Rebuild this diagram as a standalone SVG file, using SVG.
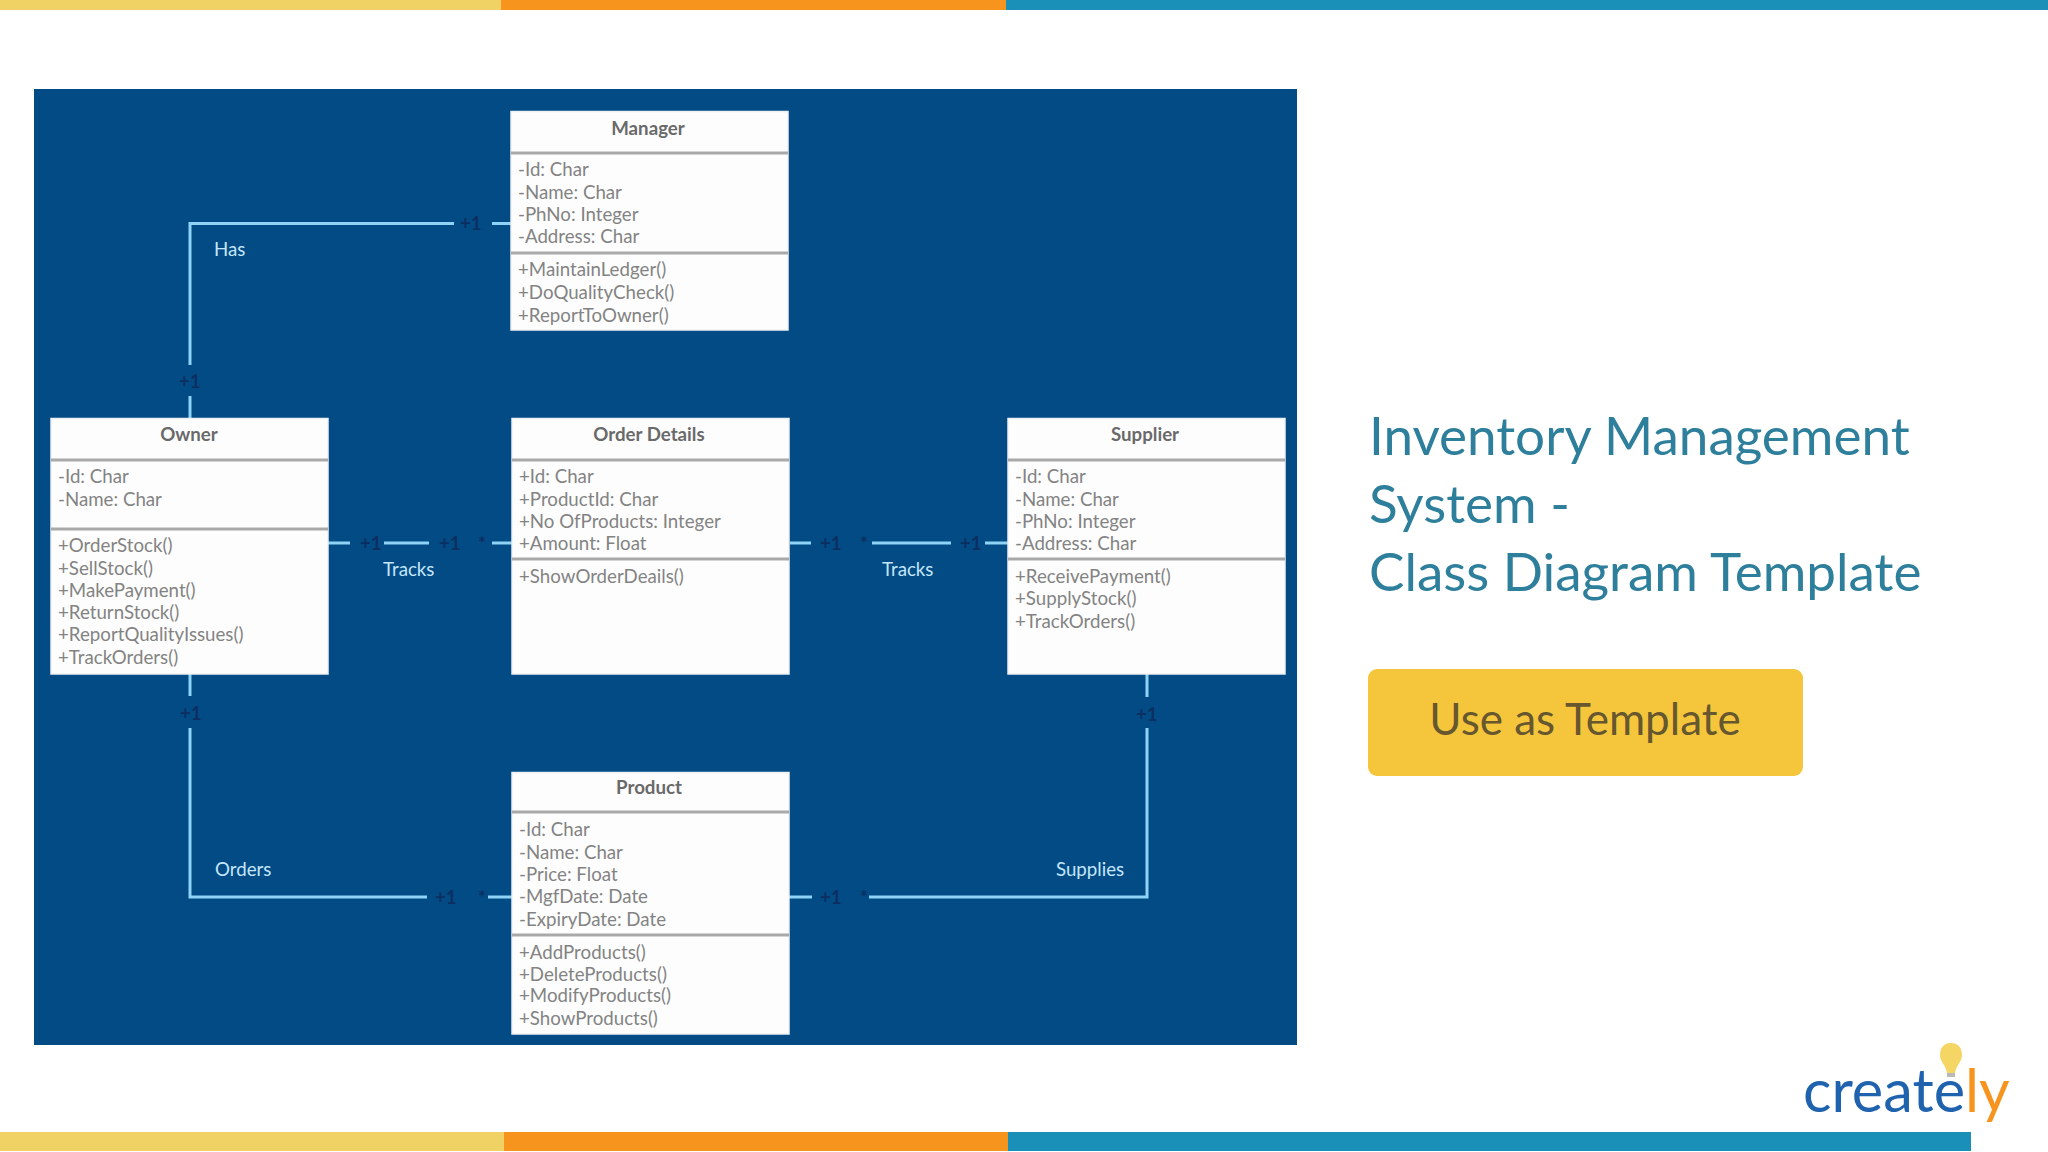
<svg xmlns="http://www.w3.org/2000/svg" width="2048" height="1152" viewBox="0 0 2048 1152">
<style>
.box{fill:#fdfdfd;stroke:#eef0f2;stroke-width:1.5}
.div{stroke:#a9a9a9;stroke-width:3}
.t{font-family:Lato,"Liberation Sans",sans-serif;font-size:18.7px;fill:#838383}
.h{font-family:Lato,"Liberation Sans",sans-serif;font-size:18.7px;font-weight:700;fill:#6a6a6a;text-anchor:middle}
.c{fill:none;stroke:#8fd3f7;stroke-width:3}
.m{font-family:Lato,"Liberation Sans",sans-serif;font-size:18.7px;font-weight:700;fill:#0c2f62}
.l{font-family:Lato,"Liberation Sans",sans-serif;font-size:18.7px;fill:#c4e6fb}
.title{font-family:Lato,"Liberation Sans",sans-serif;font-size:53px;fill:#2e7f9c}
</style>
<rect width="2048" height="1152" fill="#ffffff"/>
<g id="bars">
<rect x="0" y="0" width="501" height="10" fill="#f0d264"/>
<rect x="501" y="0" width="505" height="10" fill="#f7941e"/>
<rect x="1006" y="0" width="1042" height="10" fill="#1a8fb8"/>
<rect x="0" y="1132" width="504" height="19" fill="#f0d264"/>
<rect x="504" y="1132" width="504" height="19" fill="#f7941e"/>
<rect x="1008" y="1132" width="963" height="19" fill="#1a8fb8"/>
</g>
<rect id="canvas" x="34" y="89" width="1263" height="956" fill="#034b84"/>
<g id="connectors">
<path class="c" d="M190 418V396M190 365V223.500H454M492 223.500H511"/>
<path class="c" d="M328 543H350M384 543H429M492 543H512"/>
<path class="c" d="M790 543H811M872 543H951M985 543H1008"/>
<path class="c" d="M190 674V696M190 728V897H427M488 897H512"/>
<path class="c" d="M1147 674V697M1147 728V897H869M812 897H789"/>
<text class="m" x="179" y="388">+1</text>
<text class="m" x="460" y="230">+1</text>
<text class="m" x="360" y="550">+1</text>
<text class="m" x="439" y="550">+1</text>
<text class="m" x="478" y="550">*</text>
<text class="m" x="820" y="550">+1</text>
<text class="m" x="860" y="550">*</text>
<text class="m" x="960" y="550">+1</text>
<text class="m" x="180" y="720">+1</text>
<text class="m" x="435" y="904">+1</text>
<text class="m" x="478" y="904">*</text>
<text class="m" x="1136" y="721">+1</text>
<text class="m" x="820" y="904">+1</text>
<text class="m" x="860" y="904">*</text>
<text class="l" x="214" y="256">Has</text>
<text class="l" x="383" y="576">Tracks</text>
<text class="l" x="882" y="576">Tracks</text>
<text class="l" x="215" y="876">Orders</text>
<text class="l" x="1056" y="876">Supplies</text>
</g>
<g id="manager">
<rect class="box" x="511" y="111.500" width="277" height="218.500"/>
<path class="div" d="M511 153H788M511 253H788"/>
<text class="h" x="648" y="135">Manager</text>
<text class="t" x="518" y="176">-Id: Char</text>
<text class="t" x="518" y="199">-Name: Char</text>
<text class="t" x="518" y="221">-PhNo: Integer</text>
<text class="t" x="518" y="243">-Address: Char</text>
<text class="t" x="518" y="276">+MaintainLedger()</text>
<text class="t" x="518" y="299">+DoQualityCheck()</text>
<text class="t" x="518" y="322">+ReportToOwner()</text>
</g>
<g id="owner">
<rect class="box" x="51" y="418.500" width="277" height="255.500"/>
<path class="div" d="M51 460H328M51 529H328"/>
<text class="h" x="189" y="441">Owner</text>
<text class="t" x="58" y="483">-Id: Char</text>
<text class="t" x="58" y="506">-Name: Char</text>
<text class="t" x="58" y="552">+OrderStock()</text>
<text class="t" x="58" y="575">+SellStock()</text>
<text class="t" x="58" y="597">+MakePayment()</text>
<text class="t" x="58" y="619">+ReturnStock()</text>
<text class="t" x="58" y="641">+ReportQualityIssues()</text>
<text class="t" x="58" y="664">+TrackOrders()</text>
</g>
<g id="order-details">
<rect class="box" x="512" y="418.500" width="277" height="255.500"/>
<path class="div" d="M512 460H789M512 559H789"/>
<text class="h" x="649" y="441">Order Details</text>
<text class="t" x="519" y="483">+Id: Char</text>
<text class="t" x="519" y="506">+ProductId: Char</text>
<text class="t" x="519" y="528">+No OfProducts: Integer</text>
<text class="t" x="519" y="550">+Amount: Float</text>
<text class="t" x="519" y="583">+ShowOrderDeails()</text>
</g>
<g id="supplier">
<rect class="box" x="1008" y="418.500" width="277" height="255.500"/>
<path class="div" d="M1008 460H1285M1008 559H1285"/>
<text class="h" x="1145" y="441">Supplier</text>
<text class="t" x="1015" y="483">-Id: Char</text>
<text class="t" x="1015" y="506">-Name: Char</text>
<text class="t" x="1015" y="528">-PhNo: Integer</text>
<text class="t" x="1015" y="550">-Address: Char</text>
<text class="t" x="1015" y="583">+ReceivePayment()</text>
<text class="t" x="1015" y="605">+SupplyStock()</text>
<text class="t" x="1015" y="628">+TrackOrders()</text>
</g>
<g id="product">
<rect class="box" x="512" y="772.500" width="277" height="261.500"/>
<path class="div" d="M512 812H789M512 935H789"/>
<text class="h" x="649" y="794">Product</text>
<text class="t" x="519" y="836">-Id: Char</text>
<text class="t" x="519" y="859">-Name: Char</text>
<text class="t" x="519" y="881">-Price: Float</text>
<text class="t" x="519" y="903">-MgfDate: Date</text>
<text class="t" x="519" y="926">-ExpiryDate: Date</text>
<text class="t" x="519" y="959">+AddProducts()</text>
<text class="t" x="519" y="981">+DeleteProducts()</text>
<text class="t" x="519" y="1002">+ModifyProducts()</text>
<text class="t" x="519" y="1025">+ShowProducts()</text>
</g>
<g id="heading">
<text class="title" x="1369" y="455">Inventory Management</text>
<text class="title" x="1369" y="523">System -</text>
<text class="title" x="1369" y="591">Class Diagram Template</text>
</g>
<g id="use-template">
<rect x="1368" y="669" width="435" height="107" rx="9" fill="#f5c63c"/>
<text x="1585" y="735" font-family="Lato,'Liberation Sans',sans-serif" font-size="44" fill="#66572f" text-anchor="middle">Use as Template</text>
</g>
<g id="logo">
<text x="1803" y="1112" font-family="Lato,'Liberation Sans',sans-serif" font-size="59.500" fill="#1f62ae">create<tspan fill="#f7941e">ly</tspan></text>
<path d="M1951 1043c-8 0-11 6-11 12 0 7 6 10 7 18h8c1-8 7-11 7-18 0-6-3-12-11-12z" fill="#f5d564"/>
<rect x="1947" y="1073" width="8" height="4" fill="#b9b9b9"/>
</g>
</svg>
